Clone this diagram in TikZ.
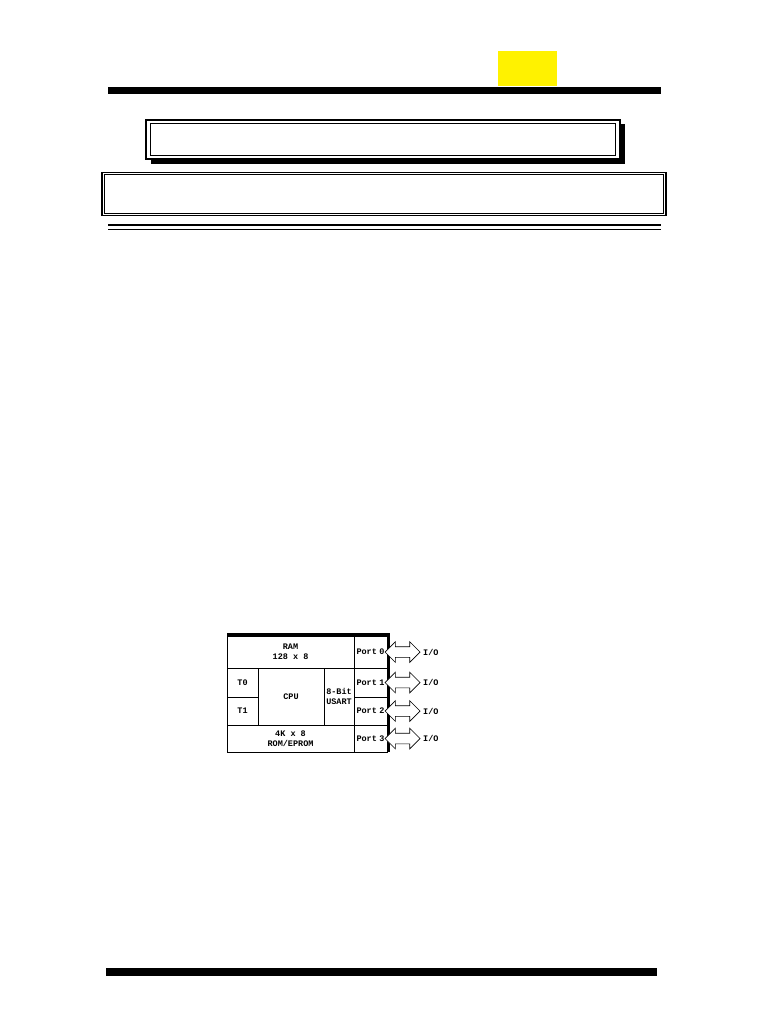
\documentclass[tikz,border=0pt]{standalone}
\usepackage{fontspec}
\usetikzlibrary{positioning,shapes.arrows}
\newfontfamily\chipfont{Liberation Mono}
\tikzset{
  cell/.style={draw,line width=0.7pt,inner sep=0pt,outer sep=0pt,anchor=north west,
    align=center,font=\chipfont\bfseries\fontsize{8.5}{10}\selectfont},
  portcell/.style={cell,minimum width=33pt,text width=28pt,align=left},
  ioarrow/.style={draw,line width=0.7pt,fill=white,double arrow,double arrow head extend=5pt,
    minimum width=20pt,minimum height=35pt,inner xsep=0pt,inner ysep=5pt,outer sep=0pt},
  iotxt/.style={inner sep=0pt,font=\chipfont\bfseries\fontsize{8.5}{10}\selectfont},
  thickedge/.style={line width=3pt}
}
\begin{document}
\begin{tikzpicture}[x=1pt,y=-1pt]
                \useasboundingbox (0,0) rectangle (768,1024);
                % page head
                \fill[yellow] (498,51) rectangle (557,86.5);
                \fill (108,87) rectangle (661,94);
                \fill (151,124) rectangle (625,164);
                \draw[line width=2pt,fill=white] (146.3,119.7) rectangle (619.7,158.8);
                \draw[line width=1.3pt] (150.2,123.2) rectangle (615.5,155.8);
                \draw[line width=1.2pt] (102,172.8) rectangle (666,215.3);
                \draw[line width=1pt] (104,174.8) rectangle (663.6,213.2);
                \draw[line width=1.6pt] (108,225.2) -- (661,225.2);
                \draw[line width=1.6pt] (108,229.5) -- (661,229.5);
                % chip
                \node[cell,minimum width=127pt,minimum height=32pt] (ram) at (227,636) {RAM\\128 x 8};
                \node[cell,minimum width=31pt,minimum height=29pt] (tzero) at (227,668) {T0};
                \node[cell,minimum width=31pt,minimum height=28pt] (tone) at (227,697) {T1};
                \node[cell,minimum width=66pt,minimum height=57pt] (cpu) at (258,668) {CPU};
                \node[cell,minimum width=30pt,minimum height=57pt] (usart) at (324,668) {8-Bit\\USART};
                \node[cell,minimum width=127pt,minimum height=27pt] (rom) at (227,725) {4K x 8\\ROM/EPROM};
                \foreach \i/\y/\h in {0/636/32,1/668/29,2/697/28,3/725/27}{
                  \node[portcell,minimum height=\h pt] (port\i) at (354,\y) {Port\hfill\i};
                }
                \draw[thickedge] ([yshift=1.5pt]ram.north west) -- ([xshift=1pt,yshift=1.5pt]port0.north east)
                  -- ([xshift=1pt]port3.south east);
                \foreach \i in {0,...,3}{
                  \node[ioarrow,right=-2pt of port\i] (arr\i) {};
                  \node[iotxt,right=3pt of arr\i] (io\i) {I/O};
                }
                % page foot
                \fill (106,968) rectangle (657,976);
\end{tikzpicture}
\end{document}
